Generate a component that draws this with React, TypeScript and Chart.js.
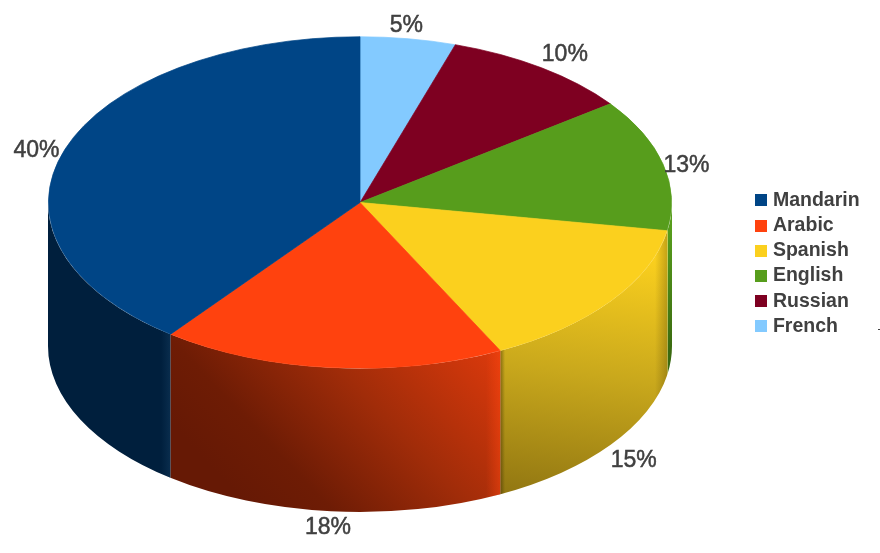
import React, { useEffect, useRef } from "react";
import { Chart, registerables } from "chart.js";

Chart.register(...registerables);

// Clockwise from 12 o'clock; the legend lists them in reverse.
const categories = ["French", "Russian", "English", "Spanish", "Arabic", "Mandarin"];
const shares = [5, 10, 13, 15, 18, 40];
const sliceColors = ["#83caff", "#7e0021", "#579d1c", "#fbd01e", "#ff420e", "#004586"];
const labelNudge = [[-2, -13], [23, -13], [23, 2], [23, 16], [-3, 16], [-28, 1]];

const CX = 360;
const RY = 166;
const RX = 312;
const DEPTH = 143.5;
const CY = 202.5;
const SX = RX / RY;
const TEXT = "#404040";
const FONT = "'Liberation Sans', Arial, sans-serif";

function linear(ctx: CanvasRenderingContext2D, x0: number, y0: number, x1: number, y1: number, stops: [number, string][]) {
  const g = ctx.createLinearGradient(x0, y0, x1, y1);
  stops.forEach(([o, c]) => g.addColorStop(o, c));
  return g;
}

function wallFill(ctx: CanvasRenderingContext2D, name: string) {
  switch (name) {
    case "Arabic":
      return linear(ctx, 289, 549, 500, 350, [[0, "#661905"], [0.2, "#6e1c05"], [0.55, "#a02c09"], [1, "#dd3a0c"]]);
    case "Spanish":
      return linear(ctx, 575, 500, 610, 250, [[0, "#937812"], [0.5, "#c9a81c"], [1, "#fbd01e"]]);
    case "English":
      return linear(ctx, 0, 230, 0, 350, [[0, "#579d1c"], [1, "#3a6a10"]]);
    case "Mandarin":
      return "#001f3d";
    default:
      return "#000";
  }
}

function wallBevels(ctx: CanvasRenderingContext2D, name: string) {
  if (name === "Mandarin") return [{ x0: 161, x1: 171, fill: linear(ctx, 161, 0, 171, 0, [[0, "rgba(40,90,130,0)"], [1, "rgba(40,90,130,0.25)"]]) }];
  if (name === "Arabic") return [{ x0: 486, x1: 500, fill: linear(ctx, 486, 0, 500, 0, [[0, "rgba(255,70,16,0)"], [1, "rgba(255,70,16,0.45)"]]) }];
  if (name === "Spanish")
    return [
      { x0: 500, x1: 505, fill: linear(ctx, 500, 0, 505, 0, [[0, "rgba(40,30,0,0.45)"], [1, "rgba(40,30,0,0)"]]) },
      { x0: 655, x1: 667, fill: linear(ctx, 655, 0, 667, 0, [[0, "rgba(40,30,0,0)"], [1, "rgba(40,30,0,0.25)"]]) },
    ];
  return [];
}

const pie3d = {
  id: "pie3d",
  afterLayout(chart: any) {
    const legend = chart.legend;
    const w = legend.width;
    const h = legend.height;
    legend.left = 753;
    legend.right = 753 + w;
    legend.top = 185;
    legend.bottom = 185 + h;
  },
  beforeDatasetsDraw(chart: any) {
    const ctx: CanvasRenderingContext2D = chart.ctx;
    const arcs = chart.getDatasetMeta(0).data;
    arcs.forEach((arc: any, i: number) => {
      const a0 = Math.max(arc.startAngle, 0);
      const a1 = Math.min(arc.endAngle, Math.PI);
      if (a1 <= a0) return;
      const trace = () => {
        ctx.beginPath();
        ctx.ellipse(CX, CY, RX, RY, 0, a0, a1);
        ctx.ellipse(CX, CY + DEPTH, RX, RY, 0, a1, a0, true);
        ctx.closePath();
      };
      ctx.save();
      trace();
      ctx.fillStyle = wallFill(ctx, categories[i]);
      ctx.fill();
      ctx.clip();
      wallBevels(ctx, categories[i]).forEach((b) => {
        ctx.fillStyle = b.fill;
        ctx.fillRect(b.x0, 0, b.x1 - b.x0, 553);
      });
      ctx.restore();
    });
    ctx.save();
    ctx.translate(CX, 0);
    ctx.scale(SX, 1);
    ctx.translate(-CX, 0);
  },
  afterDatasetsDraw(chart: any) {
    const ctx: CanvasRenderingContext2D = chart.ctx;
    ctx.restore();
    const arcs = chart.getDatasetMeta(0).data;
    ctx.save();
    ctx.font = `23px ${FONT}`;
    ctx.fillStyle = TEXT;
    ctx.strokeStyle = TEXT;
    ctx.lineWidth = 0.5;
    ctx.textAlign = "center";
    ctx.textBaseline = "middle";
    arcs.forEach((arc: any, i: number) => {
      const mid = (arc.startAngle + arc.endAngle) / 2;
      const x = CX + RX * Math.cos(mid);
      let y = CY + RY * Math.sin(mid);
      if (Math.sin(mid) > 0) y += DEPTH;
      const text = `${shares[i]}%`;
      ctx.fillText(text, x + labelNudge[i][0], y + labelNudge[i][1]);
      ctx.strokeText(text, x + labelNudge[i][0], y + labelNudge[i][1]);
    });
    ctx.fillRect(878, 329, 2, 1);
    ctx.restore();
  },
};

export default function App() {
  const ref = useRef<HTMLCanvasElement>(null);
  useEffect(() => {
    const chart = new Chart(ref.current!, {
      type: "pie",
      data: {
        labels: categories,
        datasets: [{ data: shares, backgroundColor: sliceColors, borderColor: sliceColors, borderWidth: 0.5 }],
      },
      options: {
        responsive: false,
        animation: false,
        layout: { padding: { left: CX - RY, right: 880 - CX - RY, top: CY - RY, bottom: 553 - CY - RY } },
        plugins: {
          tooltip: { enabled: false },
          legend: {
            position: "chartArea",
            align: "start",
            reverse: true,
            labels: {
              usePointStyle: true,
              pointStyleWidth: 4.5,
              padding: 5.7,
              color: TEXT,
              font: { family: FONT, size: 19.5, weight: "bold" },
              generateLabels: () =>
                categories.map((text, i) => {
                  const sw = document.createElement("canvas");
                  sw.width = 12;
                  sw.height = 12;
                  const c = sw.getContext("2d")!;
                  c.fillStyle = sliceColors[i];
                  c.fillRect(0, 0, 12, 12);
                  return { text, pointStyle: sw, fillStyle: sliceColors[i], strokeStyle: sliceColors[i], lineWidth: 0, hidden: false, index: i, fontColor: TEXT };
                }),
            },
          },
        },
      },
      plugins: [pie3d],
    } as any);
    return () => chart.destroy();
  }, []);
  return (
    <div style={{ position: "absolute", left: 0, top: 0, width: 880, height: 553, background: "#fff" }}>
      <canvas ref={ref} width={880} height={553} style={{ display: "block" }} />
    </div>
  );
}
